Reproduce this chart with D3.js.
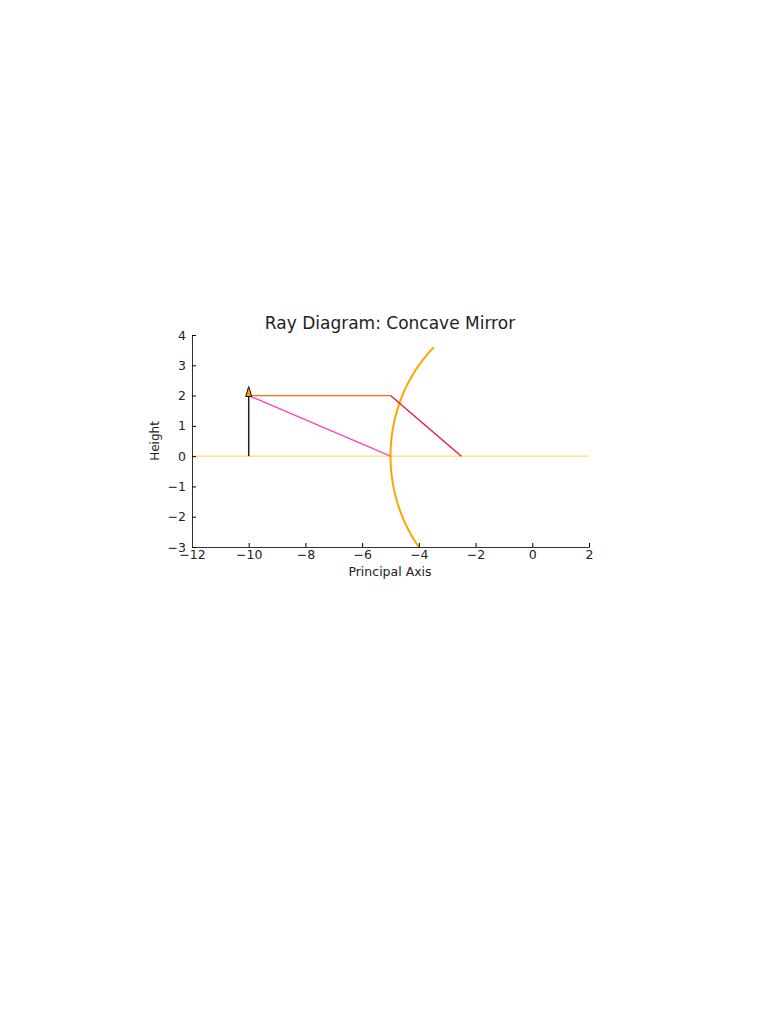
<!DOCTYPE html><html><head><meta charset="utf-8"><script src="https://cdn.jsdelivr.net/npm/d3@7"></script>
<style>body{margin:0;background:#fff}</style></head><body><svg id="c" width="768" height="1024"></svg>
<script>
const xTicks=[-12,-10,-8,-6,-4,-2,0,2];
const yTicks=[-3,-2,-1,0,1,2,3,4];
const mirrorRadius=5, mirrorCenter=[0,0];
const mirrorAngles=d3.range(134,227,1); // degrees
const objectLine=[[-10,0],[-10,2]];
const ray1=[[-10,2],[-5,2]];
const ray1r=[[-5,2],[-2.5,0]];
const ray2=[[-10,2],[-5,0]];
const axisLine=[[-12,0],[2,0]];
const svg=d3.select("#c");
const x=d3.scaleLinear().domain([-12,2]).range([192,589]);
const y=d3.scaleLinear().domain([-3,4]).range([547,335]);
const ff="DejaVu Sans, sans-serif";
svg.append("defs").append("clipPath").attr("id","cp").append("rect").attr("x",192).attr("y",335).attr("width",397).attr("height",212);
const g=svg.append("g").attr("clip-path","url(#cp)");
const line=d3.line().x(d=>x(d[0])).y(d=>y(d[1]));
g.append("path").attr("d",line(axisLine)).attr("stroke","#ffd24d").attr("stroke-width",1).attr("fill","none");
const arc=mirrorAngles.map(a=>[mirrorCenter[0]+mirrorRadius*Math.cos(a*Math.PI/180),mirrorCenter[1]+mirrorRadius*Math.sin(a*Math.PI/180)]).filter(p=>p[1]<=3.6);
g.append("path").attr("d",line(arc)).attr("stroke","#ffa500").attr("stroke-width",2).attr("fill","none");
g.append("path").attr("d",line(ray2)).attr("stroke","#ff44bb").attr("stroke-width",1.3).attr("fill","none");
g.append("path").attr("d",line(ray1)).attr("stroke","#ff6a1a").attr("stroke-width",1.3).attr("fill","none");
g.append("path").attr("d",line(ray1r)).attr("stroke","#ee1144").attr("stroke-width",1.3).attr("fill","none");
g.append("path").attr("d",line(objectLine)).attr("stroke","#222").attr("stroke-width",1.5).attr("fill","none");
g.append("path").attr("d",`M${x(-10)},${y(2.3)}L${x(-10)-3},${y(1.97)}L${x(-10)+3},${y(1.97)}Z`).attr("fill","#ffa500").attr("stroke","#111").attr("stroke-width",1);
svg.append("g").attr("transform","translate(0,547)").call(d3.axisBottom(x).tickValues(xTicks).tickSize(-4).tickPadding(3).tickFormat(d=>String(d).replace("-","\u2212"))).call(a=>{a.select(".domain").attr("stroke","#333");a.selectAll("text").attr("font-family",ff).attr("font-size",12.5).attr("fill","#222");});
svg.append("g").attr("transform","translate(192,0)").call(d3.axisLeft(y).tickValues(yTicks).tickSize(-4).tickFormat(d=>String(d).replace("-","\u2212"))).call(a=>{a.select(".domain").attr("stroke","#333");a.selectAll("text").attr("font-family",ff).attr("font-size",12.5).attr("fill","#222").attr("x",-6);});
svg.append("text").attr("x",390).attr("y",329).attr("text-anchor","middle").attr("font-family",ff).attr("font-size",17).attr("fill","#222").text("Ray Diagram: Concave Mirror");
svg.append("text").attr("x",390).attr("y",576).attr("text-anchor","middle").attr("font-family",ff).attr("font-size",12.5).attr("fill","#222").text("Principal Axis");
svg.append("text").attr("transform","translate(159,441) rotate(-90)").attr("text-anchor","middle").attr("font-family",ff).attr("font-size",12).attr("fill","#222").text("Height");
</script></body></html>
